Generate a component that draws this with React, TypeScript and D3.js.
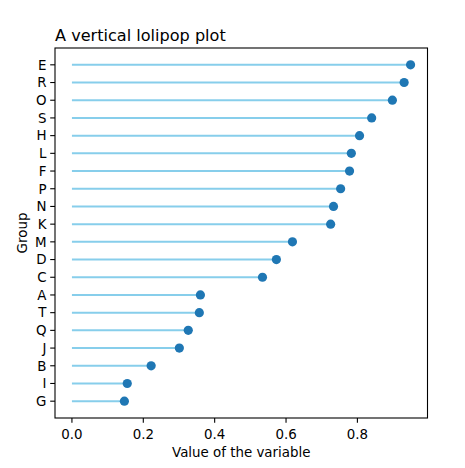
import * as d3 from "d3";

// values, top row first
const groups = ["E", "R", "O", "S", "H", "L", "F", "P", "N", "K", "M", "D", "C", "A", "T", "Q", "J", "B", "I", "G"];
const values = [0.949, 0.931, 0.898, 0.84, 0.806, 0.783, 0.778, 0.753, 0.733, 0.725, 0.618, 0.573, 0.534, 0.36, 0.357, 0.326, 0.301, 0.222, 0.155, 0.147];
const xTicks = [0, 0.2, 0.4, 0.6, 0.8];

const W = 465;
const H = 468;
const margin = { top: 48, right: 37.5, bottom: 50, left: 55 };
const font = "DejaVu Sans, sans-serif";
const fs = 13.4;

export default function App() {
  const rows = groups.map((g, i) => ({ group: g, value: values[i] }));
  const maxV = d3.max(values) || 1;
  const pad = maxV * 0.05;

  const x = d3
    .scaleLinear()
    .domain([-pad, maxV + pad])
    .range([margin.left, W - margin.right]);

  // matplotlib style: categories at integer positions, 5% margin
  const n = groups.length;
  const y = d3
    .scaleLinear()
    .domain([-0.05 * (n - 1), (n - 1) * 1.05])
    .range([H - margin.bottom, margin.top]);
  const yPos = (i: number) => y(n - 1 - i);

  const left = margin.left;
  const right = W - margin.right;
  const top = margin.top;
  const bottom = H - margin.bottom;

  return (
    <svg
      width={W}
      height={H}
      style={{ position: "absolute", left: 0, top: 0, background: "#fff" }}
      fontFamily={font}
    >
      <rect x={0} y={0} width={W} height={H} fill="#fff" />
      {rows.map((d, i) => (
        <line
          key={"s" + d.group}
          x1={x(0)}
          x2={x(d.value)}
          y1={yPos(i)}
          y2={yPos(i)}
          stroke="skyblue"
          strokeWidth={2}
        />
      ))}
      {rows.map((d, i) => (
        <circle key={"c" + d.group} cx={x(d.value)} cy={yPos(i)} r={4.6} fill="#1f77b4" />
      ))}

      <rect x={left} y={top} width={right - left} height={bottom - top} fill="none" stroke="#000" strokeWidth={1.1} />

      {xTicks.map((t) => (
        <g key={"x" + t}>
          <line x1={x(t)} x2={x(t)} y1={bottom} y2={bottom + 4.8} stroke="#000" strokeWidth={1.1} />
          <text x={x(t)} y={bottom + 20.5} textAnchor="middle" fontSize={fs} fill="#000">
            {t.toFixed(1)}
          </text>
        </g>
      ))}
      {rows.map((d, i) => (
        <g key={"y" + d.group}>
          <line x1={left - 4.8} x2={left} y1={yPos(i)} y2={yPos(i)} stroke="#000" strokeWidth={1.1} />
          <text x={left - 8.5} y={yPos(i)} dy="0.36em" textAnchor="end" fontSize={fs} fill="#000">
            {d.group}
          </text>
        </g>
      ))}

      <text x={(left + right) / 2} y={457.3} textAnchor="middle" fontSize={fs} fill="#000">
        Value of the variable
      </text>
      <text
        transform={`translate(27, ${(top + bottom) / 2}) rotate(-90)`}
        textAnchor="middle"
        fontSize={fs}
        fill="#000"
      >
        Group
      </text>
      <text x={left} y={41} fontSize={16.1} fill="#000">
        A vertical lolipop plot
      </text>
    </svg>
  );
}
